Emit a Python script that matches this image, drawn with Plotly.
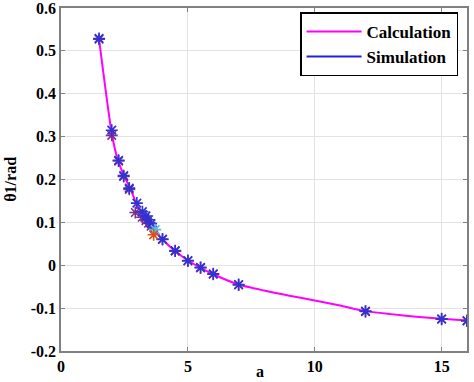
import plotly.graph_objects as go

# Calculation curve (a, theta1)
calc_a = [1.5, 2.0, 2.25, 2.5, 2.75, 3.0, 3.25, 3.5, 3.75, 4.0, 4.5, 5.0, 5.5, 6.0, 7.0, 8.0, 9.0, 10.0, 11.0, 12.0, 13.0, 14.0, 15.0, 16.0]
calc_theta = [0.527, 0.308, 0.243, 0.207, 0.176, 0.140, 0.115, 0.097, 0.077, 0.060, 0.033, 0.011, -0.006, -0.021, -0.045, -0.059, -0.071, -0.082, -0.094, -0.107, -0.114, -0.120, -0.125, -0.129]

# Simulation points (main, blue)
sim_a = [1.5, 2.0, 2.27, 2.47, 2.69, 2.99, 3.21, 3.35, 3.45, 3.55, 4.0, 4.5, 5.0, 5.5, 6.0, 7.0, 12.0, 15.0, 16.0]
sim_theta = [0.529, 0.315, 0.245, 0.209, 0.180, 0.145, 0.125, 0.115, 0.106, 0.097, 0.061, 0.034, 0.011, -0.005, -0.020, -0.045, -0.107, -0.125, -0.129]

# Simulation points (other runs, purple)
sim2_a = [1.5, 2.0, 2.27, 2.47, 2.69, 2.93, 3.2, 3.35, 3.45, 3.55, 4.0, 4.5, 5.0, 5.5, 6.0, 7.0, 12.0, 15.0, 16.0]
sim2_theta = [0.527, 0.303, 0.243, 0.207, 0.177, 0.123, 0.112, 0.104, 0.098, 0.091, 0.060, 0.033, 0.010, -0.006, -0.021, -0.046, -0.108, -0.126, -0.130]

# Extra simulation markers
sim3_a = [3.71]
sim3_theta = [0.083]
sim4_a = [3.65]
sim4_theta = [0.071]

x_ticks = [0, 5, 10, 15]
y_ticks = [-0.2, -0.1, 0, 0.1, 0.2, 0.3, 0.4, 0.5, 0.6]
y_ticktext = ["-0.2", "-0.1", "0", "0.1", "0.2", "0.3", "0.4", "0.5", "0.6"]

FONT = "Liberation Serif"


def star(color):
    return dict(symbol="asterisk-open", size=10, color=color, line=dict(color=color, width=1.6))


fig = go.Figure()
fig.add_trace(go.Scatter(x=calc_a, y=calc_theta, mode="lines", name="Calculation",
                         line=dict(color="#FF00FF", width=2, shape="spline", smoothing=0.6)))
fig.add_trace(go.Scatter(x=sim2_a, y=sim2_theta, mode="markers", showlegend=False, marker=star("#7E2F8E")))
fig.add_trace(go.Scatter(x=sim_a, y=sim_theta, mode="markers", showlegend=False, marker=star("#3232D2")))
fig.add_trace(go.Scatter(x=sim3_a, y=sim3_theta, mode="markers", showlegend=False, marker=star("#4DBEEE")))
fig.add_trace(go.Scatter(x=sim4_a, y=sim4_theta, mode="markers", showlegend=False, marker=star("#D95319")))
# Legend entry for simulation shown as a blue line
fig.add_trace(go.Scatter(x=[None], y=[None], mode="lines", name="Simulation",
                         line=dict(color="#2020E0", width=2)))

fig.update_layout(
    width=474, height=382,
    margin=dict(l=61, r=7, t=8, b=31, autoexpand=False),
    paper_bgcolor="white", plot_bgcolor="white",
    font=dict(family=FONT, size=16, color="black"),
    showlegend=True,
    legend=dict(x=0.978, y=0.987, xanchor="right", yanchor="top",
                bgcolor="white", bordercolor="black", borderwidth=1.5,
                font=dict(family=FONT, size=17, color="black", weight="bold"),
                itemwidth=55, tracegroupgap=0),
    xaxis=dict(range=[0, 16], tickvals=x_ticks, showgrid=True, gridcolor="#E3E3E3", gridwidth=1,
               zeroline=False, showline=True, linecolor="#808080", linewidth=1.5, mirror="ticks",
               ticks="inside", ticklen=4, tickcolor="#808080", automargin=False,
               ticklabeloverflow="allow",
               tickfont=dict(family=FONT, size=16, color="black", weight="bold")),
    yaxis=dict(range=[-0.2, 0.6], tickvals=y_ticks, ticktext=y_ticktext, showgrid=True,
               gridcolor="#E3E3E3", gridwidth=1,
               zeroline=False, showline=True, linecolor="#808080", linewidth=1.5, mirror="ticks",
               ticks="inside", ticklen=4, tickcolor="#808080", automargin=False,
               ticklabeloverflow="allow",
               tickfont=dict(family=FONT, size=16, color="black", weight="bold")),
    annotations=[
        dict(text="<b>a</b>", xref="paper", yref="paper", x=0.49, y=-0.06,
             xanchor="center", yanchor="middle", showarrow=False,
             font=dict(family=FONT, size=16, color="black")),
        dict(text="<b>θ1/rad</b>", xref="paper", yref="paper", x=-0.125, y=0.5,
             xanchor="center", yanchor="middle", showarrow=False, textangle=-90,
             font=dict(family=FONT, size=16, color="black")),
    ],
)

fig.write_html("out.html", config={"displayModeBar": False},
               post_script="document.body.style.margin='0';")
